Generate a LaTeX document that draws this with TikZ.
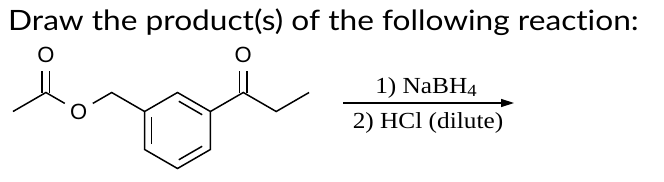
\documentclass[tikz,border=0pt]{standalone}
\usepackage{fontspec}
\setmainfont{Liberation Serif}
\newfontfamily\titlefont[Ligatures=NoCommon]{Lato}
\newfontfamily\atomfont{Liberation Sans}
\usetikzlibrary{calc,arrows.meta}
\begin{document}
\begin{tikzpicture}[x=1pt,y=-1pt,
  bond/.style={line width=1.5pt, line cap=butt},
  atomO/.style={circle, inner sep=0pt, minimum size=32pt, font=\atomfont\fontsize{22}{22}\selectfont},
  reagent/.style={font=\fontsize{23}{24}\selectfont, inner sep=0pt, xscale=1.1},
  rxnarrow/.style={line width=1.4pt, -{Triangle[length=13pt,width=8pt]}}]
\useasboundingbox (0,0) rectangle (664,182);
% title
\node[anchor=base west, inner sep=0pt, xscale=1.13, font=\titlefont\fontsize{28}{30}\selectfont] (title) at (8,30.5) {Draw the product(s) of the following reaction:};
% ring
\coordinate (cen) at (177.5,130.5);
\coordinate (r1) at (177.5,92.5);
\coordinate (r2) at (210.4,111.5);
\coordinate (r3) at (210.4,149.5);
\coordinate (r4) at (177.5,168.5);
\coordinate (r5) at (144.6,149.5);
\coordinate (r6) at (144.6,111.5);
% left chain
\coordinate (ch2) at (111.7,92.5);
\node[atomO] (oe) at (78.8,111.5) {O};
\coordinate (cc1) at (45.9,92.5);
\coordinate (me) at (13,111.5);
\node[atomO] (o1) at (45.9,54.5) {O};
% right chain
\coordinate (cc2) at (243.3,92.5);
\node[atomO] (o2) at (243.3,54.5) {O};
\coordinate (et1) at (276.2,111.5);
\coordinate (et2) at (309.1,92.5);
% ring bonds
\draw[bond, line join=miter] (r1) -- (r2) -- (r3) -- (r4) -- (r5) -- (r6) -- cycle;
\draw[bond, shorten <=1.5pt, shorten >=1.5pt] ($(cen)!0.79!(r5)$) -- ($(cen)!0.79!(r6)$);
\draw[bond, shorten <=1.5pt, shorten >=1.5pt] ($(cen)!0.79!(r1)$) -- ($(cen)!0.79!(r2)$);
\draw[bond, shorten <=1.5pt, shorten >=1.5pt] ($(cen)!0.79!(r3)$) -- ($(cen)!0.79!(r4)$);
% chains
\draw[bond, line join=miter] (r6) -- (ch2) -- (oe);
\draw[bond, line join=miter] (oe) -- (cc1) -- (me);
\draw[bond] ([xshift=-3.7pt]cc1) -- ([xshift=-3.7pt]o1.south);
\draw[bond] ([xshift=3.7pt]cc1) -- ([xshift=3.7pt]o1.south);
\draw[bond, line join=miter] (r2) -- (cc2) -- (et1) -- (et2);
\draw[bond] ([xshift=-3.7pt]cc2) -- ([xshift=-3.7pt]o2.south);
\draw[bond] ([xshift=3.7pt]cc2) -- ([xshift=3.7pt]o2.south);
% reaction arrow
\coordinate (a1) at (343,103);
\coordinate (a2) at (514,103);
\draw[rxnarrow] (a1) -- (a2);
\node[reagent, anchor=base] (rg1) at (426,93) {1) NaBH{\fontsize{17}{17}\selectfont\raisebox{-3pt}{4}}};
\node[reagent, anchor=base] (rg2) at (428,128) {2) HCl (dilute)};
\end{tikzpicture}
\end{document}
